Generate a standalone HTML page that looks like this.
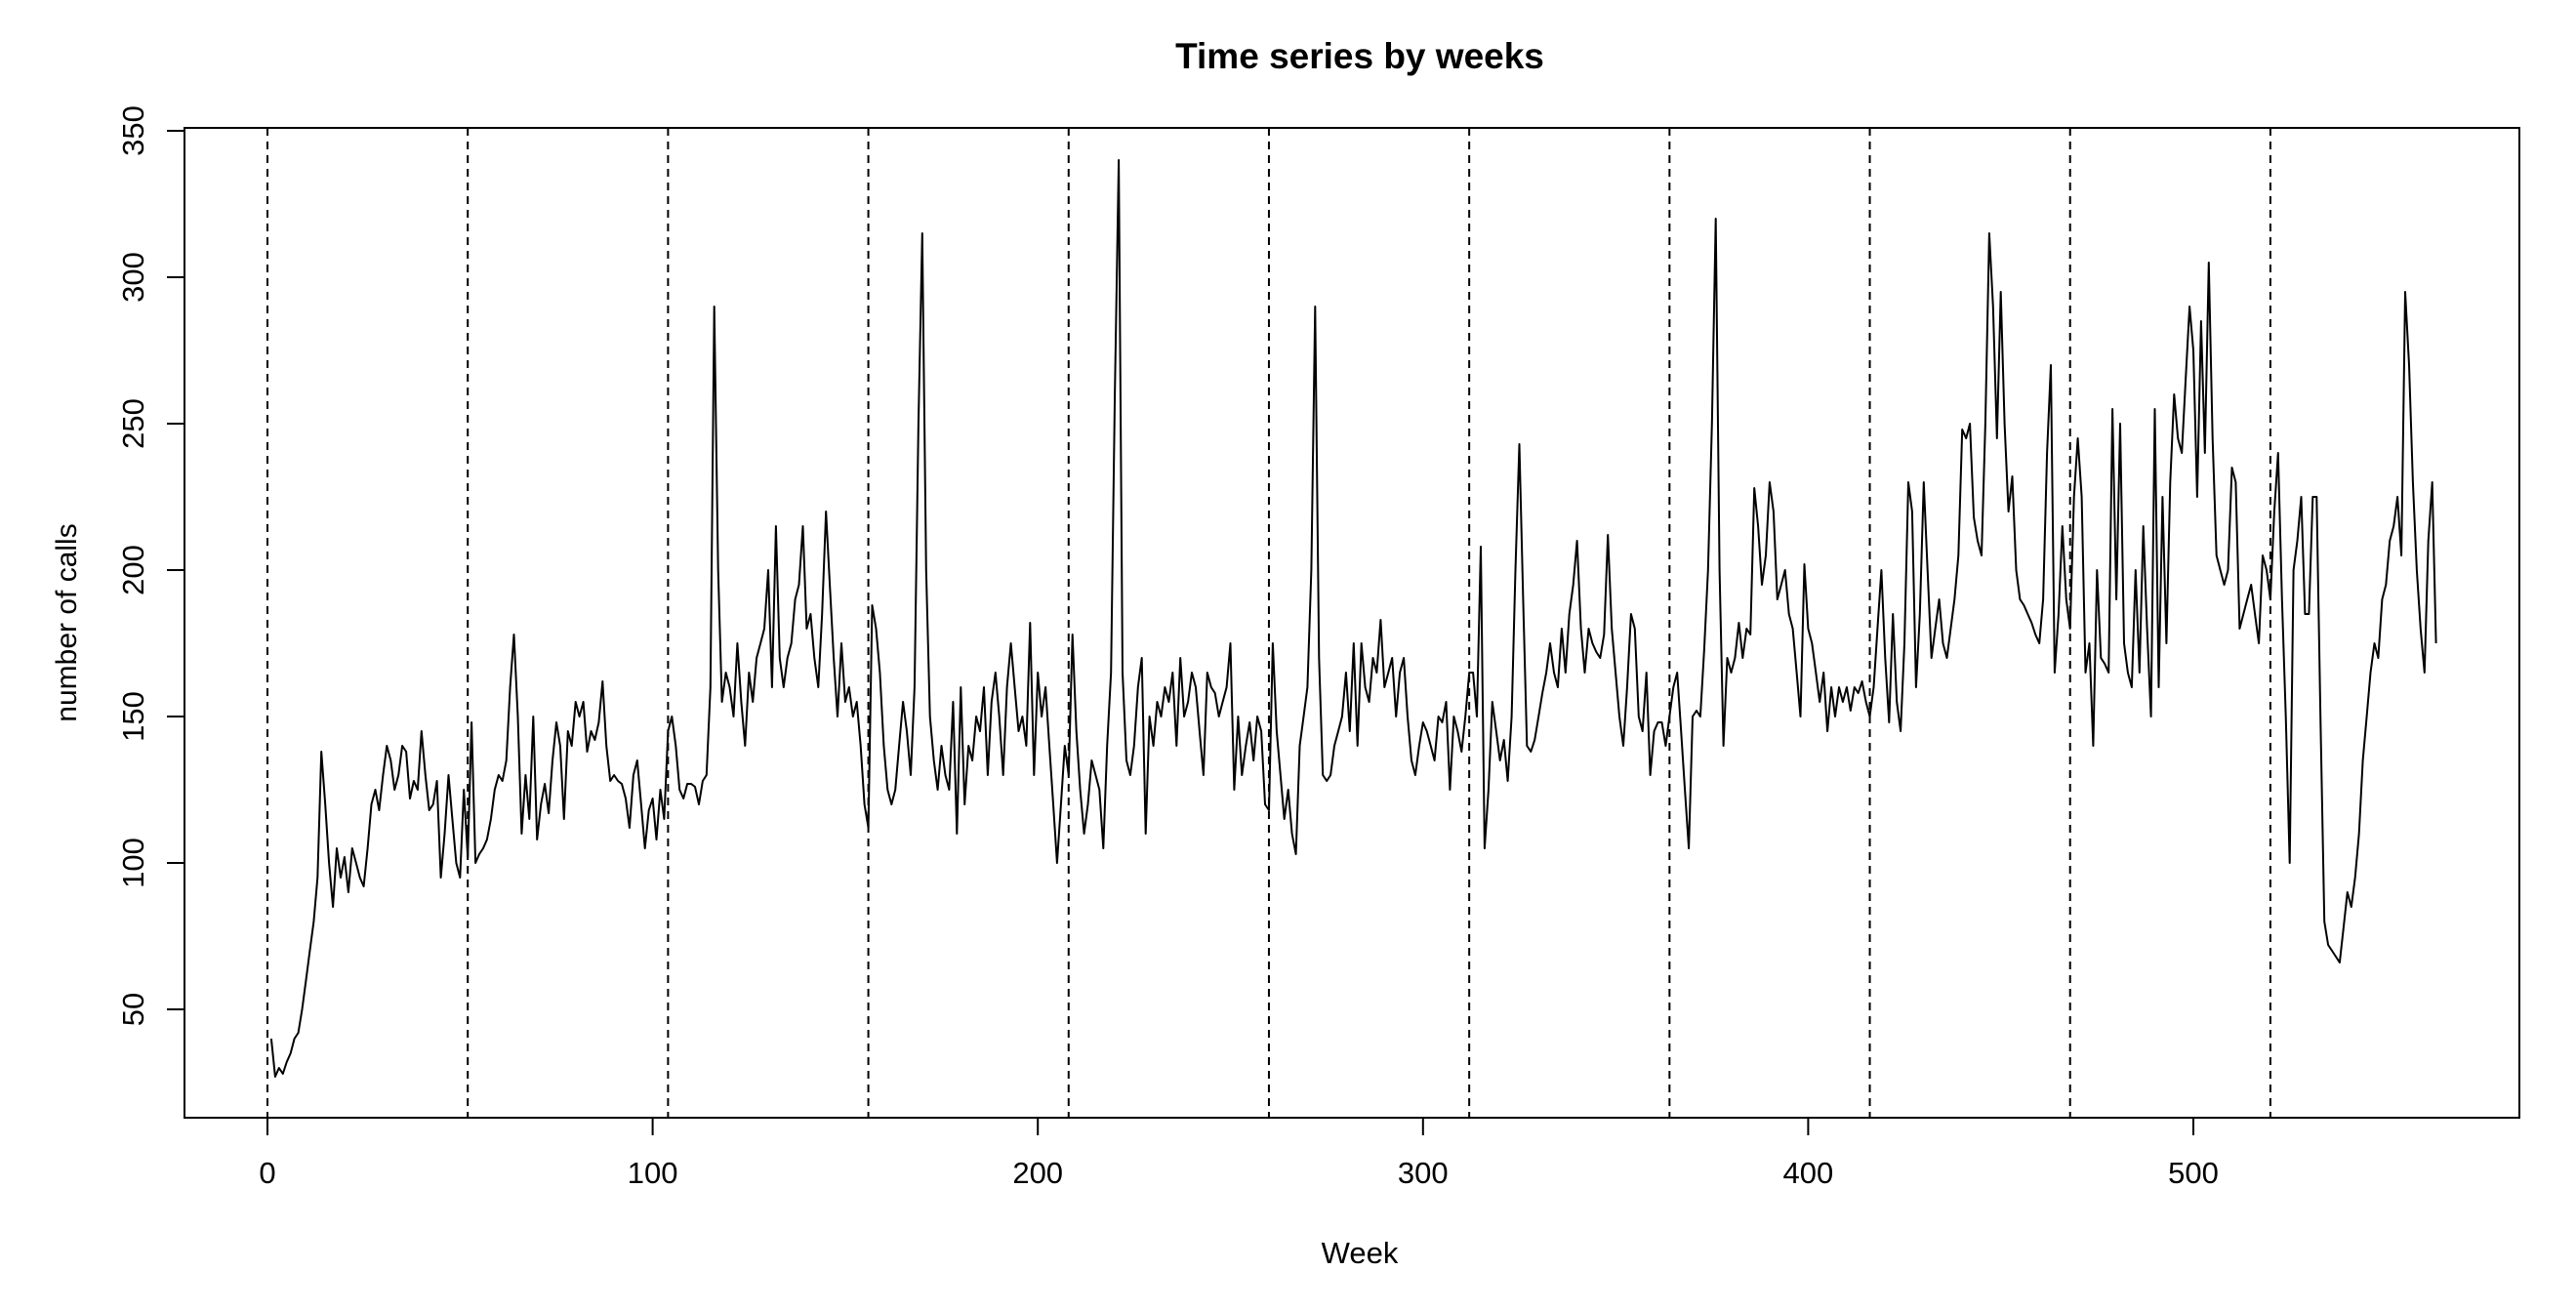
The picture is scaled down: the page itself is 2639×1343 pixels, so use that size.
<!DOCTYPE html>
<html><head><meta charset="utf-8"><title>Time series by weeks</title>
<style>
html,body{margin:0;padding:0;background:#fff;}
svg{display:block;}
text{font-family:"Liberation Sans",Arial,sans-serif;fill:#000;}
</style></head>
<body>
<svg id="chart" width="2639" height="1343" viewBox="0 0 2639 1343" xmlns="http://www.w3.org/2000/svg">
<rect x="0" y="0" width="2639" height="1343" fill="#fff"/>
<text x="1393" y="70" font-size="37" font-weight="bold" text-anchor="middle">Time series by weeks</text>
<text x="1393" y="1294" font-size="31" text-anchor="middle">Week</text>
<text x="0" y="0" font-size="30" text-anchor="middle" transform="translate(78,638) rotate(-90)">number of calls</text>
<g id="vlines"></g>
<g id="series"></g>
<g id="xaxis"></g>
<g id="yaxis"></g>
<rect x="189" y="131" width="2392" height="1014" fill="none" stroke="#000" stroke-width="2"/>
</svg>
<script>
const calls = [
40,27,30,28,32,35,40,42,50,60,70,80,95,138,120,100,85,105,95,102,90,105,100,95,92,105,120,125,118,130,140,135,125,130,140,138,122,128,125,145,130,118,120,128,95,110,130,115,100,95,125,102,
148,100,103,105,108,115,125,130,128,135,160,178,150,110,130,115,150,108,120,127,117,135,148,140,115,145,140,155,150,155,138,145,142,148,162,140,128,130,128,127,122,112,130,135,120,105,118,122,108,125,115,145,
150,140,125,122,127,127,126,120,128,130,160,290,200,155,165,160,150,175,155,140,165,155,170,175,180,200,160,215,170,160,170,175,190,195,215,180,185,170,160,185,220,195,170,150,175,155,160,150,155,140,120,112,
188,180,165,140,125,120,125,140,155,145,130,160,250,315,200,150,135,125,140,130,125,155,110,160,120,140,135,150,145,160,130,155,165,150,130,160,175,160,145,150,140,182,130,165,150,160,140,120,100,120,140,130,
178,145,125,110,120,135,130,125,105,140,165,260,340,165,135,130,140,160,170,110,150,140,155,150,160,155,165,140,170,150,155,165,160,145,130,165,160,158,150,155,160,175,125,150,130,140,148,135,150,145,120,118,
175,145,130,115,125,110,103,140,150,160,200,290,170,130,128,130,140,145,150,165,145,175,140,175,160,155,170,165,183,160,165,170,150,165,170,150,135,130,140,148,145,140,135,150,148,155,125,150,145,138,150,165,
165,150,208,105,125,155,145,135,142,128,150,200,243,190,140,138,142,150,158,165,175,165,160,180,165,185,195,210,180,165,180,175,172,170,178,212,180,165,150,140,160,185,180,150,145,165,130,145,148,148,140,150,
160,165,145,125,105,150,152,150,173,200,250,320,200,140,170,165,170,182,170,180,178,228,215,195,205,230,220,190,195,200,185,180,165,150,202,180,175,165,155,165,145,160,150,160,155,160,152,160,158,162,155,150,
160,180,200,170,148,185,155,145,175,230,220,160,185,230,200,170,180,190,175,170,180,190,205,248,245,250,218,210,205,250,315,290,245,295,250,220,232,200,190,188,185,182,178,175,190,240,270,165,185,215,190,180,
225,245,225,165,175,140,200,170,168,165,255,190,250,175,165,160,200,165,215,180,150,255,160,225,175,230,260,245,240,265,290,275,225,285,240,305,245,205,200,195,200,235,230,180,185,190,195,185,175,205,200,190,
220,240,190,150,100,200,210,225,185,185,225,225,150,80,72,70,68,66,78,90,85,95,110,135,150,165,175,170,190,195,210,215,225,205,295,270,230,200,180,165,210,230,175
];
const xTicks = [0,100,200,300,400,500];
const yTicks = [50,100,150,200,250,300,350];
const yearMarks = [0,52,104,156,208,260,312,364,416,468,520];

const NS = "http://www.w3.org/2000/svg";
const L = 189, R = 2581, T = 131, B = 1145;
function X(w){ return 274 + w*(2247 - 274)/500; }
function Y(v){ return 1034 - (v - 50)*(1034 - 134)/300; }

const vg = document.getElementById('vlines');
yearMarks.forEach(w=>{
  const ln = document.createElementNS(NS,'line');
  ln.setAttribute('x1',X(w)); ln.setAttribute('x2',X(w));
  ln.setAttribute('y1',T); ln.setAttribute('y2',B);
  ln.setAttribute('stroke','#000'); ln.setAttribute('stroke-width','2');
  ln.setAttribute('stroke-dasharray','8,6');
  
  
  vg.appendChild(ln);
});

const sg = document.getElementById('series');
const pts = calls.map((v,i)=>X(i+1).toFixed(1)+','+Y(v).toFixed(1)).join(' ');
const pl = document.createElementNS(NS,'polyline');
pl.setAttribute('points',pts);
pl.setAttribute('fill','none'); pl.setAttribute('stroke','#000');
pl.setAttribute('stroke-width','2'); pl.setAttribute('stroke-linejoin','round');


sg.appendChild(pl);

const xg = document.getElementById('xaxis');
const xa = document.createElementNS(NS,'line');
xa.setAttribute('x1',X(xTicks[0])); xa.setAttribute('x2',X(xTicks[xTicks.length-1]));
xa.setAttribute('y1',B); xa.setAttribute('y2',B); xa.setAttribute('stroke','#000'); xa.setAttribute('stroke-width','2');


xg.appendChild(xa);
xTicks.forEach(t=>{
  const tk = document.createElementNS(NS,'line');
  tk.setAttribute('x1',X(t)); tk.setAttribute('x2',X(t)); tk.setAttribute('y1',B); tk.setAttribute('y2',B+18);
  tk.setAttribute('stroke','#000'); tk.setAttribute('stroke-width','2');
  
  
  xg.appendChild(tk);
  const tx = document.createElementNS(NS,'text');
  tx.setAttribute('x',X(t)); tx.setAttribute('y',1212); tx.setAttribute('font-size','31'); tx.setAttribute('text-anchor','middle');
  tx.textContent = t;
  
  
  xg.appendChild(tx);
});

const yg = document.getElementById('yaxis');
const ya = document.createElementNS(NS,'line');
ya.setAttribute('x1',L); ya.setAttribute('x2',L);
ya.setAttribute('y1',Y(yTicks[0])); ya.setAttribute('y2',Y(yTicks[yTicks.length-1]));
ya.setAttribute('stroke','#000'); ya.setAttribute('stroke-width','2');


yg.appendChild(ya);
yTicks.forEach(t=>{
  const tk = document.createElementNS(NS,'line');
  tk.setAttribute('x1',L-18); tk.setAttribute('x2',L); tk.setAttribute('y1',Y(t)); tk.setAttribute('y2',Y(t));
  tk.setAttribute('stroke','#000'); tk.setAttribute('stroke-width','2');
  
  
  yg.appendChild(tk);
  const tx = document.createElementNS(NS,'text');
  tx.setAttribute('x',0); tx.setAttribute('y',0); tx.setAttribute('font-size','31'); tx.setAttribute('text-anchor','middle');
  tx.setAttribute('transform','translate(147,'+Y(t)+') rotate(-90)');
  tx.textContent = t;
  
  
  yg.appendChild(tx);
});
</script>
</body></html>
